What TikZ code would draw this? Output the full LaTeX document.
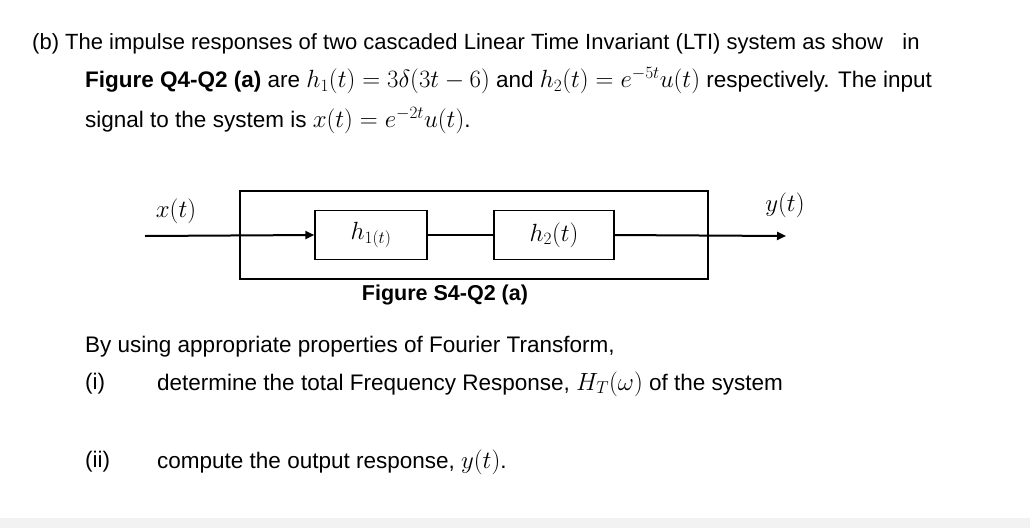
\documentclass[tikz,border=0pt]{standalone}
\usepackage{fontspec}
\setmainfont{Liberation Sans}
\usetikzlibrary{arrows.meta}
\newcommand{\mymath}[1]{{\fontsize{25.5}{26}\selectfont$#1$}}
\begin{document}
\begin{tikzpicture}[x=1pt,y=-1pt,
  txt/.style={anchor=west,inner sep=0pt,font=\fontsize{22.5}{26}\selectfont},
  blk/.style={draw,line width=1.4pt,inner sep=0pt},
  ln/.style={line width=2pt}]
\fill[white] (0,0) rectangle (1030,528);
\fill[gray!10] (0,518) rectangle (1030,528);
\useasboundingbox (0,0) rectangle (1030,528);
\node[txt,font=\fontsize{22}{26}\selectfont] (l1) at (32,44) {(b) The impulse responses of two cascaded Linear Time Invariant (LTI) system as show\hspace{0.6em} in};
\node[txt] (l2) at (85,81) {\textbf{Figure Q4-Q2 (a)} are \mymath{h_1(t)=3\delta(3t-6)} and \mymath{h_2(t)=e^{-5t}u(t)} respectively. The input};
\node[txt] (l3) at (85,121) {signal to the system is \mymath{x(t)=e^{-2t}u(t)}.};
\node[blk,minimum width=468,minimum height=88] (outer) at (474,235) {};
\node[blk,minimum width=112,minimum height=49] (h1) at (371,235) {\mymath{h_{1(t)}}};
\node[blk,minimum width=120,minimum height=49] (h2) at (554,235) {\mymath{h_2(t)}};
\coordinate (in) at (145,236);
\coordinate (out) at (786,236);
\draw[ln,-{Triangle[length=9pt,width=8pt]}] (in) -- (h1.west);
\draw[ln] (h1.east) -- (h2.west);
\draw[ln,-{Triangle[length=9pt,width=8pt]}] (h2.east) -- (out);
\node[inner sep=0pt] (xl) at (176,211) {\mymath{x(t)}};
\node[inner sep=0pt] (yl) at (785,205) {\mymath{y(t)}};
\node[inner sep=0pt] (cap) at (445,295) {\fontsize{21.5}{24}\selectfont\bfseries Figure S4-Q2 (a)};
\node[txt] (b1) at (85,347) {By using appropriate properties of Fourier Transform,};
\node[txt] (i1) at (85,384) {(i)};
\node[txt] (i2) at (157,384) {determine the total Frequency Response, \mymath{H_T(\omega)} of the system};
\node[txt] (ii1) at (85,462) {(ii)};
\node[txt] (ii2) at (157,462) {compute the output response, \mymath{y(t)}.};
\end{tikzpicture}
\end{document}
